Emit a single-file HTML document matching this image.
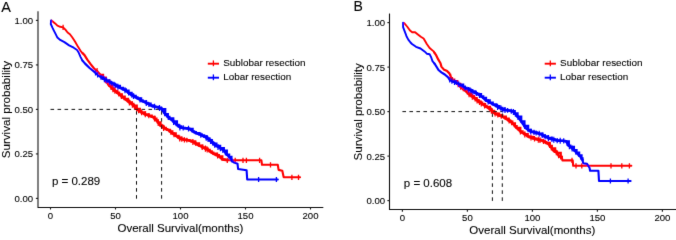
<!DOCTYPE html>
<html><head><meta charset="utf-8"><style>
html,body{margin:0;padding:0;background:#fff;width:676px;height:237px;overflow:hidden}
svg{display:block}
#w{width:676px;height:237px}
text{font-family:"Liberation Sans",sans-serif;fill:#000;stroke:#000;stroke-width:0.1px}
</style></head><body>
<div id="w"><svg width="676" height="237" viewBox="0 0 676 237">
<defs><filter id="bl" x="0" y="0" width="676" height="237" filterUnits="userSpaceOnUse"><feConvolveMatrix order="3" kernelMatrix="0.00640 0.06720 0.00640 0.06720 0.70560 0.06720 0.00640 0.06720 0.00640" preserveAlpha="false" edgeMode="duplicate"/></filter></defs>
<rect width="676" height="237" fill="#fff"/>
<g filter="url(#bl)">
<text x="1.3" y="11.75" font-size="14.5">A</text>
<path d="M38.00,11.3 V207.45 H323.3" fill="none" stroke="#111" stroke-width="1.1"/>
<path d="M35.9,20.4 H38.0" stroke="#1a1a1a" stroke-width="1.1"/>
<text x="33.2" y="23.8" font-size="9.6" text-anchor="end">1.00</text>
<path d="M35.9,64.9 H38.0" stroke="#1a1a1a" stroke-width="1.1"/>
<text x="33.2" y="68.4" font-size="9.6" text-anchor="end">0.75</text>
<path d="M35.9,109.4 H38.0" stroke="#1a1a1a" stroke-width="1.1"/>
<text x="33.2" y="112.9" font-size="9.6" text-anchor="end">0.50</text>
<path d="M35.9,153.9 H38.0" stroke="#1a1a1a" stroke-width="1.1"/>
<text x="33.2" y="157.3" font-size="9.6" text-anchor="end">0.25</text>
<path d="M35.9,198.4 H38.0" stroke="#1a1a1a" stroke-width="1.1"/>
<text x="33.2" y="201.8" font-size="9.6" text-anchor="end">0.00</text>
<path d="M50.5,207.2 V209.5" stroke="#1a1a1a" stroke-width="1.1"/>
<text x="50.5" y="219.0" font-size="9.6" text-anchor="middle">0</text>
<path d="M115.5,207.2 V209.5" stroke="#1a1a1a" stroke-width="1.1"/>
<text x="115.5" y="219.0" font-size="9.6" text-anchor="middle">50</text>
<path d="M180.5,207.2 V209.5" stroke="#1a1a1a" stroke-width="1.1"/>
<text x="180.5" y="219.0" font-size="9.6" text-anchor="middle">100</text>
<path d="M245.5,207.2 V209.5" stroke="#1a1a1a" stroke-width="1.1"/>
<text x="245.5" y="219.0" font-size="9.6" text-anchor="middle">150</text>
<path d="M310.5,207.2 V209.5" stroke="#1a1a1a" stroke-width="1.1"/>
<text x="310.5" y="219.0" font-size="9.6" text-anchor="middle">200</text>
<text x="180.4" y="231.6" font-size="11.5" text-anchor="middle">Overall Survival(months)</text>
<text transform="translate(9.60,109.60) rotate(-90)" x="0" y="0" font-size="11.6" text-anchor="middle">Survival probability</text>
<path d="M51.5,20.4 L55.1,23.4 L57.4,25.7 L60.2,26.8 L63.1,27.4 L65.4,29.7 L67.6,32.5 L69.9,34.2 L72.2,37.3 L75.0,41.5 L78.2,47.1 L81.1,51.7 L82.5,53.1" fill="none" stroke="#ff0000" stroke-width="1.9" stroke-linejoin="round" stroke-linecap="round"/>
<path d="M82.5,53.1 L84.5,55.1 L87.3,59.6 L90.8,64.4 L94.1,68.5 L97.5,71.4 L101.0,75.4 L104.9,79.9 L107.8,83.9 L108.5,84.7" fill="none" stroke="#ff0000" stroke-width="2.2" stroke-linejoin="round" stroke-linecap="round"/>
<path d="M108.5,84.7 L109.6,86.0 L114.1,90.5 L118.7,94.0 L123.2,97.9 L127.8,101.3 L132.3,104.4 L134.6,107.0 L139.1,111.0 L143.7,113.8 L148.2,115.5 L152.8,117.2 L156.2,120.1 L159.6,124.8 L164.1,128.2 L168.7,130.5 L173.5,134.3 L179.6,138.5 L184.1,139.8 L188.7,140.4 L193.2,142.1 L197.8,144.9 L202.3,147.3 L206.9,149.3 L211.4,152.5 L215.0,154.6 L218.2,155.8 L222.5,159.5 L227.3,160.3" fill="none" stroke="#ff0000" stroke-width="2.4" stroke-linejoin="round" stroke-linecap="round"/>
<path d="M227.3,160.3 L261.4,160.3 L262.0,164.8 L277.8,164.8 L278.6,169.9 L282.3,170.7 L283.7,177.3 L300.0,177.3" fill="none" stroke="#ff0000" stroke-width="2.1" stroke-linejoin="round" stroke-linecap="round"/>
<path d="M100.5,74.8 H103.0 V77.7 H105.7 V81.0 H109.3 V85.7 H111.9 V88.3 H114.5 V90.8 H117.3 V92.9 H119.1 V94.4 H121.8 V96.7 H124.7 V99.0 H128.0 V101.4 H129.6 V102.5 H131.7 V104.0 H133.4 V105.6 H136.7 V108.9 H139.8 V111.4 H141.3 V112.3 H145.0 V114.3 H148.7 V115.7 H151.7 V116.8 H154.6 V118.7 H156.4 V120.3 H157.8 V122.3 H160.5 V125.5 H162.0 V126.6 H163.9 V128.0 H165.8 V129.1 H167.3 V129.8 H169.8 V131.4 H172.3 V133.3 H175.7 V135.8 H178.4 V137.6 H181.3 V139.0 H183.9 V139.7 H186.9 V140.2 H189.4 V140.7 H191.4 V141.4 H195.2 V143.3 H199.0 V145.6 H202.4 V147.4 H205.5 V148.7 H207.7 V149.9 H209.7 V151.3 H211.7 V152.7 H213.3 V153.6 H216.6 V155.2 H218.9 V156.4 H222.3 V159.4 H224.7 V159.9 H227.3 V160.3" fill="none" stroke="#ff0000" stroke-width="2.3" stroke-linejoin="miter"/>
<path d="M97.1,68.0 V74.1 M102.2,74.0 V79.6 M105.5,78.3 V83.2 M111.1,84.9 V90.1 M112.9,86.4 V92.3 M114.9,88.4 V93.8 M118.8,91.6 V96.6 M121.4,93.7 V98.9 M129.4,99.4 V105.4 M132.4,101.5 V107.7 M134.5,104.0 V109.8 M136.8,106.5 V111.4 M138.6,108.0 V113.2 M141.6,109.8 V115.2 M145.3,111.6 V117.2 M148.8,113.2 V118.2 M154.5,115.8 V121.6 M158.2,119.8 V125.9 M161.7,123.7 V129.1 M163.6,124.7 V130.9 M170.8,129.6 V134.7 M174.0,132.1 V137.2 M179.7,135.5 V141.6 M181.8,136.5 V141.7 M184.4,137.3 V142.4 M186.8,137.7 V142.6 M192.9,139.1 V144.9 M195.8,141.3 V146.1 M202.2,144.5 V150.0 M205.4,145.6 V151.8 M207.2,146.6 V152.4 M217.6,152.7 V158.4" fill="none" stroke="#ff0000" stroke-width="1.2"/>
<path d="M63.1,24.8 V30.0 M227.3,157.7 V162.9 M235.2,157.7 V162.9 M243.0,157.7 V162.9 M246.4,157.7 V162.9 M259.6,157.7 V162.9 M270.5,162.2 V167.4 M291.9,174.7 V179.9 M298.5,174.7 V179.9" fill="none" stroke="#ff0000" stroke-width="1.3"/>
<path d="M51.1,20.4 L50.8,24.0 L52.3,27.4 L54.0,30.8 L55.7,34.2 L57.4,37.6 L60.2,39.9 L64.4,42.1 L69.1,45.4 L73.7,47.7 L77.1,50.0 L78.8,52.8 L80.5,56.8 L82.2,60.2 L82.5,60.6" fill="none" stroke="#0000ff" stroke-width="1.9" stroke-linejoin="round" stroke-linecap="round"/>
<path d="M82.5,60.6 L85.1,63.6 L89.6,68.0 L94.1,71.6 L97.5,74.8 L102.1,78.2 L107.8,81.3 L108.5,81.7" fill="none" stroke="#0000ff" stroke-width="2.2" stroke-linejoin="round" stroke-linecap="round"/>
<path d="M108.5,81.7 L113.5,84.3 L119.5,87.6 L125.5,90.5 L130.6,94.5 L136.3,97.6 L142.0,101.0 L147.1,103.5 L152.8,106.4 L158.5,107.5 L161.9,109.2 L164.2,113.2 L168.7,117.8 L173.2,121.4 L176.6,124.8 L180.1,127.5 L184.6,128.2 L189.2,128.8 L192.6,131.3 L195.5,133.0 L200.1,134.7 L204.6,136.8 L209.2,140.0 L214.8,145.0 L219.4,147.8 L223.9,150.7 L227.3,155.2 L230.8,158.5 L232.0,161.2" fill="none" stroke="#0000ff" stroke-width="2.4" stroke-linejoin="round" stroke-linecap="round"/>
<path d="M232.0,161.2 L234.1,162.5 L237.5,163.7 L238.1,169.0 L246.6,170.3 L247.2,179.5 L277.8,179.5" fill="none" stroke="#0000ff" stroke-width="2.1" stroke-linejoin="round" stroke-linecap="round"/>
<path d="M100.5,77.0 H103.0 V78.7 H106.0 V80.3 H109.0 V81.9 H110.8 V82.9 H112.2 V83.6 H114.5 V84.8 H116.5 V86.0 H119.9 V87.8 H122.9 V89.3 H125.8 V90.7 H128.5 V92.9 H131.5 V95.0 H133.3 V95.9 H135.7 V97.3 H137.5 V98.3 H141.1 V100.5 H142.6 V101.3 H146.0 V103.0 H147.6 V103.7 H150.6 V105.3 H152.8 V106.4 H155.2 V106.9 H158.6 V107.6 H160.1 V108.3 H161.6 V109.1 H165.2 V114.2 H167.8 V116.9 H169.4 V118.4 H173.2 V121.4 H176.9 V125.0 H178.6 V126.3 H181.0 V127.6 H182.7 V127.9 H184.8 V128.2 H187.7 V128.6 H189.5 V129.0 H192.6 V131.3 H194.1 V132.2 H195.9 V133.2 H199.3 V134.4 H201.7 V135.4 H204.1 V136.5 H206.9 V138.4 H209.4 V140.2 H211.8 V142.3 H213.2 V143.6 H216.4 V146.0 H220.1 V148.2 H223.8 V150.7 H226.8 V154.6 H229.1 V156.9 H231.4 V159.8 H232.0 V161.2" fill="none" stroke="#0000ff" stroke-width="2.3" stroke-linejoin="miter"/>
<path d="M95.5,70.4 V75.4 M97.6,72.1 V77.6 M101.0,75.0 V79.8 M104.4,76.7 V82.2 M106.5,77.9 V83.3 M109.8,79.6 V85.1 M111.8,81.0 V85.8 M114.0,81.7 V87.4 M115.7,83.0 V88.1 M117.9,83.7 V89.8 M125.0,87.3 V93.2 M128.6,90.3 V95.5 M131.9,92.6 V97.8 M133.5,93.2 V98.9 M140.0,97.2 V102.4 M146.3,100.3 V105.9 M148.9,101.9 V107.0 M154.6,103.7 V109.8 M159.5,105.1 V110.9 M161.6,106.5 V111.6 M164.7,111.2 V116.2 M168.3,114.8 V119.9 M173.6,118.8 V124.9 M179.9,124.3 V130.4 M183.2,125.3 V130.6 M188.5,125.8 V131.6 M200.8,132.4 V137.7 M206.2,135.1 V140.8 M208.1,136.4 V142.1 M210.6,138.5 V143.9 M212.9,140.8 V145.8 M214.7,142.0 V147.8 M218.0,143.9 V150.0 M220.4,145.7 V151.2 M222.9,147.2 V153.0 M225.3,149.9 V155.2 M229.0,154.1 V159.4" fill="none" stroke="#0000ff" stroke-width="1.2"/>
<path d="M258.6,176.9 V182.1 M276.4,176.9 V182.1" fill="none" stroke="#0000ff" stroke-width="1.3"/>
<path d="M50.5,109.4 H161.6 M136.5,198.7 V109.4 M161.6,198.7 V109.4" fill="none" stroke="#111" stroke-width="1" stroke-dasharray="3.6,3.4"/>
<path d="M207.8,63.7 H219.0" stroke="#ff0000" stroke-width="1.9"/><path d="M213.4,60.4 V66.2" stroke="#ff0000" stroke-width="1.3"/>
<path d="M207.8,77.7 H219.0" stroke="#0000ff" stroke-width="1.9"/><path d="M213.4,74.4 V80.2" stroke="#0000ff" stroke-width="1.3"/>
<text x="223.2" y="66.0" font-size="9.9">Sublobar resection</text>
<text x="223.2" y="80.3" font-size="9.9">Lobar resection</text>
<text x="51.9" y="184.6" font-size="11.5">p = 0.289</text>
<text x="353.4" y="11.2" font-size="14">B</text>
<path d="M389.50,13.5 V209.45 H676.0" fill="none" stroke="#111" stroke-width="1.1"/>
<path d="M387.4,22.6 H389.5" stroke="#1a1a1a" stroke-width="1.1"/>
<text x="385.1" y="26.0" font-size="9.6" text-anchor="end">1.00</text>
<path d="M387.4,67.1 H389.5" stroke="#1a1a1a" stroke-width="1.1"/>
<text x="385.1" y="70.5" font-size="9.6" text-anchor="end">0.75</text>
<path d="M387.4,111.6 H389.5" stroke="#1a1a1a" stroke-width="1.1"/>
<text x="385.1" y="115.0" font-size="9.6" text-anchor="end">0.50</text>
<path d="M387.4,156.1 H389.5" stroke="#1a1a1a" stroke-width="1.1"/>
<text x="385.1" y="159.5" font-size="9.6" text-anchor="end">0.25</text>
<path d="M387.4,200.6 H389.5" stroke="#1a1a1a" stroke-width="1.1"/>
<text x="385.1" y="204.0" font-size="9.6" text-anchor="end">0.00</text>
<path d="M402.4,209.4 V211.7" stroke="#1a1a1a" stroke-width="1.1"/>
<text x="402.4" y="221.2" font-size="9.6" text-anchor="middle">0</text>
<path d="M467.4,209.4 V211.7" stroke="#1a1a1a" stroke-width="1.1"/>
<text x="467.4" y="221.2" font-size="9.6" text-anchor="middle">50</text>
<path d="M532.4,209.4 V211.7" stroke="#1a1a1a" stroke-width="1.1"/>
<text x="532.4" y="221.2" font-size="9.6" text-anchor="middle">100</text>
<path d="M597.4,209.4 V211.7" stroke="#1a1a1a" stroke-width="1.1"/>
<text x="597.4" y="221.2" font-size="9.6" text-anchor="middle">150</text>
<path d="M662.4,209.4 V211.7" stroke="#1a1a1a" stroke-width="1.1"/>
<text x="662.4" y="221.2" font-size="9.6" text-anchor="middle">200</text>
<text x="532.3" y="234.0" font-size="11.5" text-anchor="middle">Overall Survival(months)</text>
<text transform="translate(361.50,111.80) rotate(-90)" x="0" y="0" font-size="11.6" text-anchor="middle">Survival probability</text>
<path d="M404.0,22.9 L407.1,26.5 L410.0,30.5 L412.2,32.2 L415.1,32.2 L417.9,34.5 L420.8,36.8 L423.6,38.5 L424.8,40.5 L426.8,44.0 L429.6,48.0 L433.6,51.4 L434.4,52.6" fill="none" stroke="#ff0000" stroke-width="1.9" stroke-linejoin="round" stroke-linecap="round"/>
<path d="M434.4,52.6 L435.9,54.8 L438.2,59.4 L440.5,63.3 L441.4,66.6 L443.7,69.4 L447.1,71.1 L449.4,73.4 L450.5,76.2 L451.6,79.1 L455.1,81.9 L459.6,85.8 L460.4,86.5" fill="none" stroke="#ff0000" stroke-width="2.2" stroke-linejoin="round" stroke-linecap="round"/>
<path d="M460.4,86.5 L464.4,89.8 L469.1,94.5 L473.7,97.9 L478.2,101.4 L482.8,104.6 L487.0,107.2 L490.2,109.5 L494.1,113.1 L498.7,115.4 L503.2,117.1 L507.8,119.9 L512.3,123.3 L514.6,125.8 L519.1,130.4 L523.7,133.8 L528.2,136.6 L532.8,138.3 L537.3,139.5 L541.9,140.6 L544.6,142.0 L548.5,144.2 L551.4,147.7 L553.7,151.1 L557.3,153.0 L559.0,156.4 L561.8,157.0" fill="none" stroke="#ff0000" stroke-width="2.4" stroke-linejoin="round" stroke-linecap="round"/>
<path d="M561.8,157.0 L562.4,160.4 L572.7,160.4 L573.2,165.8 L631.3,165.8" fill="none" stroke="#ff0000" stroke-width="2.1" stroke-linejoin="round" stroke-linecap="round"/>
<path d="M452.4,79.7 H454.2 V81.2 H457.3 V83.8 H460.2 V86.3 H462.7 V88.4 H464.6 V90.0 H467.9 V93.3 H471.3 V96.1 H473.9 V98.1 H476.5 V100.1 H478.5 V101.6 H479.9 V102.6 H482.2 V104.2 H485.0 V106.0 H486.6 V106.9 H489.9 V109.3 H491.8 V111.0 H493.8 V112.8 H495.3 V113.7 H499.1 V115.5 H502.3 V116.7 H505.8 V118.7 H508.6 V120.5 H510.1 V121.6 H512.3 V123.3 H514.9 V126.1 H516.6 V127.8 H520.3 V131.3 H522.5 V132.9 H524.3 V134.2 H527.7 V136.3 H529.4 V137.0 H533.0 V138.4 H535.5 V139.0 H538.2 V139.7 H540.4 V140.3 H543.0 V141.2 H544.9 V142.1 H546.3 V143.0 H549.8 V145.8 H551.8 V148.3 H555.1 V151.8 H557.0 V152.8 H560.7 V156.8 H561.8 V157.0" fill="none" stroke="#ff0000" stroke-width="2.3" stroke-linejoin="miter"/>
<path d="M450.7,73.8 V79.6 M452.5,76.9 V82.8 M458.1,81.9 V87.2 M460.7,83.6 V89.8 M463.2,86.3 V91.3 M469.1,91.7 V97.2 M472.3,94.0 V99.7 M475.1,96.5 V101.5 M477.1,97.5 V103.6 M479.5,99.7 V104.9 M481.3,100.6 V106.5 M484.6,102.8 V108.6 M491.4,107.5 V113.7 M495.1,110.6 V116.6 M497.8,112.4 V117.5 M501.3,113.9 V118.8 M509.1,118.3 V123.5 M511.6,120.3 V125.2 M520.4,128.3 V134.4 M524.8,131.5 V137.5 M531.0,134.8 V140.5 M534.5,136.0 V141.5 M538.3,136.7 V142.8 M540.0,137.3 V143.0 M543.5,138.8 V144.0 M549.6,143.0 V147.9 M551.4,144.9 V150.4 M556.3,149.7 V155.3 M558.6,153.1 V158.2 M560.6,154.1 V159.4" fill="none" stroke="#ff0000" stroke-width="1.2"/>
<path d="M557.3,150.4 V155.6 M572.0,157.8 V163.0 M576.0,163.2 V168.4 M581.8,163.2 V168.4 M611.0,163.2 V168.4 M621.8,163.2 V168.4 M629.4,163.2 V168.4" fill="none" stroke="#ff0000" stroke-width="1.3"/>
<path d="M403.1,22.6 L403.1,27.1 L404.8,31.7 L406.5,36.2 L408.3,39.6 L410.5,42.5 L412.0,44.0 L416.0,46.8 L420.5,48.5 L424.5,51.4 L426.8,53.7 L429.6,54.2 L431.3,57.7 L432.5,61.1 L434.4,63.5" fill="none" stroke="#0000ff" stroke-width="1.9" stroke-linejoin="round" stroke-linecap="round"/>
<path d="M434.4,63.5 L434.8,64.0 L437.0,67.5 L438.5,70.0 L441.4,72.3 L444.8,74.5 L448.2,77.4 L449.9,80.2 L453.9,81.9 L458.5,84.2 L460.4,85.3" fill="none" stroke="#0000ff" stroke-width="2.2" stroke-linejoin="round" stroke-linecap="round"/>
<path d="M460.4,85.3 L464.6,87.7 L469.1,90.0 L473.7,92.3 L478.2,94.5 L482.8,97.6 L486.0,100.5 L491.8,103.8 L498.1,107.2 L503.2,109.8 L509.5,110.6 L513.3,111.8 L515.2,114.0 L519.6,119.2 L523.0,124.0 L525.9,128.2 L530.5,131.5 L535.1,132.7 L539.6,133.8 L544.4,136.4 L549.1,138.5 L553.7,139.7 L558.2,140.8 L562.8,140.8 L566.2,141.4 L568.0,145.0 L571.5,148.0 L574.8,151.0 L577.8,154.1 L580.6,157.0 L582.5,160.1" fill="none" stroke="#0000ff" stroke-width="2.4" stroke-linejoin="round" stroke-linecap="round"/>
<path d="M582.5,160.1 L583.2,163.2 L587.0,163.9 L589.5,167.7 L590.1,170.8 L598.4,170.8 L599.0,181.0 L630.6,181.0" fill="none" stroke="#0000ff" stroke-width="2.1" stroke-linejoin="round" stroke-linecap="round"/>
<path d="M452.4,81.3 H456.1 V83.0 H457.8 V83.9 H459.3 V84.7 H463.1 V86.8 H464.9 V87.9 H466.6 V88.7 H469.6 V90.2 H471.8 V91.4 H475.3 V93.1 H477.3 V94.1 H481.0 V96.4 H483.2 V97.9 H486.0 V100.5 H489.7 V102.6 H492.7 V104.3 H496.3 V106.2 H499.4 V107.9 H500.9 V108.6 H504.4 V110.0 H507.3 V110.3 H509.4 V110.6 H511.3 V111.2 H514.7 V113.4 H517.5 V116.7 H521.2 V121.4 H524.4 V126.0 H528.1 V129.8 H530.9 V131.6 H534.0 V132.4 H536.8 V133.1 H538.8 V133.6 H542.5 V135.4 H544.7 V136.5 H548.0 V138.0 H551.7 V139.2 H554.6 V139.9 H556.4 V140.3 H559.7 V140.8 H562.7 V140.8 H564.6 V141.1 H566.1 V141.4 H568.8 V145.7 H570.3 V146.9 H573.9 V150.2 H576.5 V152.7 H579.1 V155.5 H581.5 V158.5 H582.5 V160.1" fill="none" stroke="#0000ff" stroke-width="2.3" stroke-linejoin="miter"/>
<path d="M449.7,77.0 V82.6 M451.9,78.3 V83.8 M454.5,79.4 V85.0 M458.7,81.6 V87.0 M465.0,85.5 V90.4 M468.6,87.0 V92.5 M471.0,88.3 V93.6 M473.0,89.2 V94.7 M476.3,91.1 V96.1 M479.5,92.7 V98.0 M488.2,98.9 V104.6 M497.6,104.0 V109.9 M501.0,105.6 V111.8 M502.7,106.7 V112.4 M505.0,107.1 V112.9 M507.6,107.9 V112.8 M511.3,108.7 V113.7 M513.4,108.9 V114.9 M515.4,111.8 V116.7 M518.0,114.7 V120.0 M524.7,123.8 V129.1 M528.1,127.3 V132.3 M530.8,128.7 V134.5 M534.0,129.8 V135.0 M536.1,130.5 V135.4 M539.2,130.7 V136.7 M542.2,132.5 V138.0 M545.1,134.0 V139.5 M548.4,135.1 V141.3 M551.9,136.4 V142.0 M553.8,136.7 V142.7 M557.2,137.9 V143.2 M560.2,137.8 V143.8 M563.7,138.3 V143.6 M567.2,140.9 V145.9 M569.4,143.2 V149.2 M572.1,145.6 V151.5 M575.9,149.4 V154.8" fill="none" stroke="#0000ff" stroke-width="1.2"/>
<path d="M610.4,178.4 V183.6 M628.1,178.4 V183.6" fill="none" stroke="#0000ff" stroke-width="1.3"/>
<path d="M402.4,111.6 H502.3 M492.4,200.9 V111.6 M502.3,200.9 V111.6" fill="none" stroke="#111" stroke-width="1" stroke-dasharray="3.6,3.4"/>
<path d="M544.7,63.7 H555.9" stroke="#ff0000" stroke-width="1.9"/><path d="M550.3,60.4 V66.2" stroke="#ff0000" stroke-width="1.3"/>
<path d="M544.7,77.7 H555.9" stroke="#0000ff" stroke-width="1.9"/><path d="M550.3,74.4 V80.2" stroke="#0000ff" stroke-width="1.3"/>
<text x="560.1" y="66.0" font-size="9.9">Sublobar resection</text>
<text x="560.1" y="80.3" font-size="9.9">Lobar resection</text>
<text x="403.8" y="186.8" font-size="11.5">p = 0.608</text>
</g>
</svg></div>
</body></html>
